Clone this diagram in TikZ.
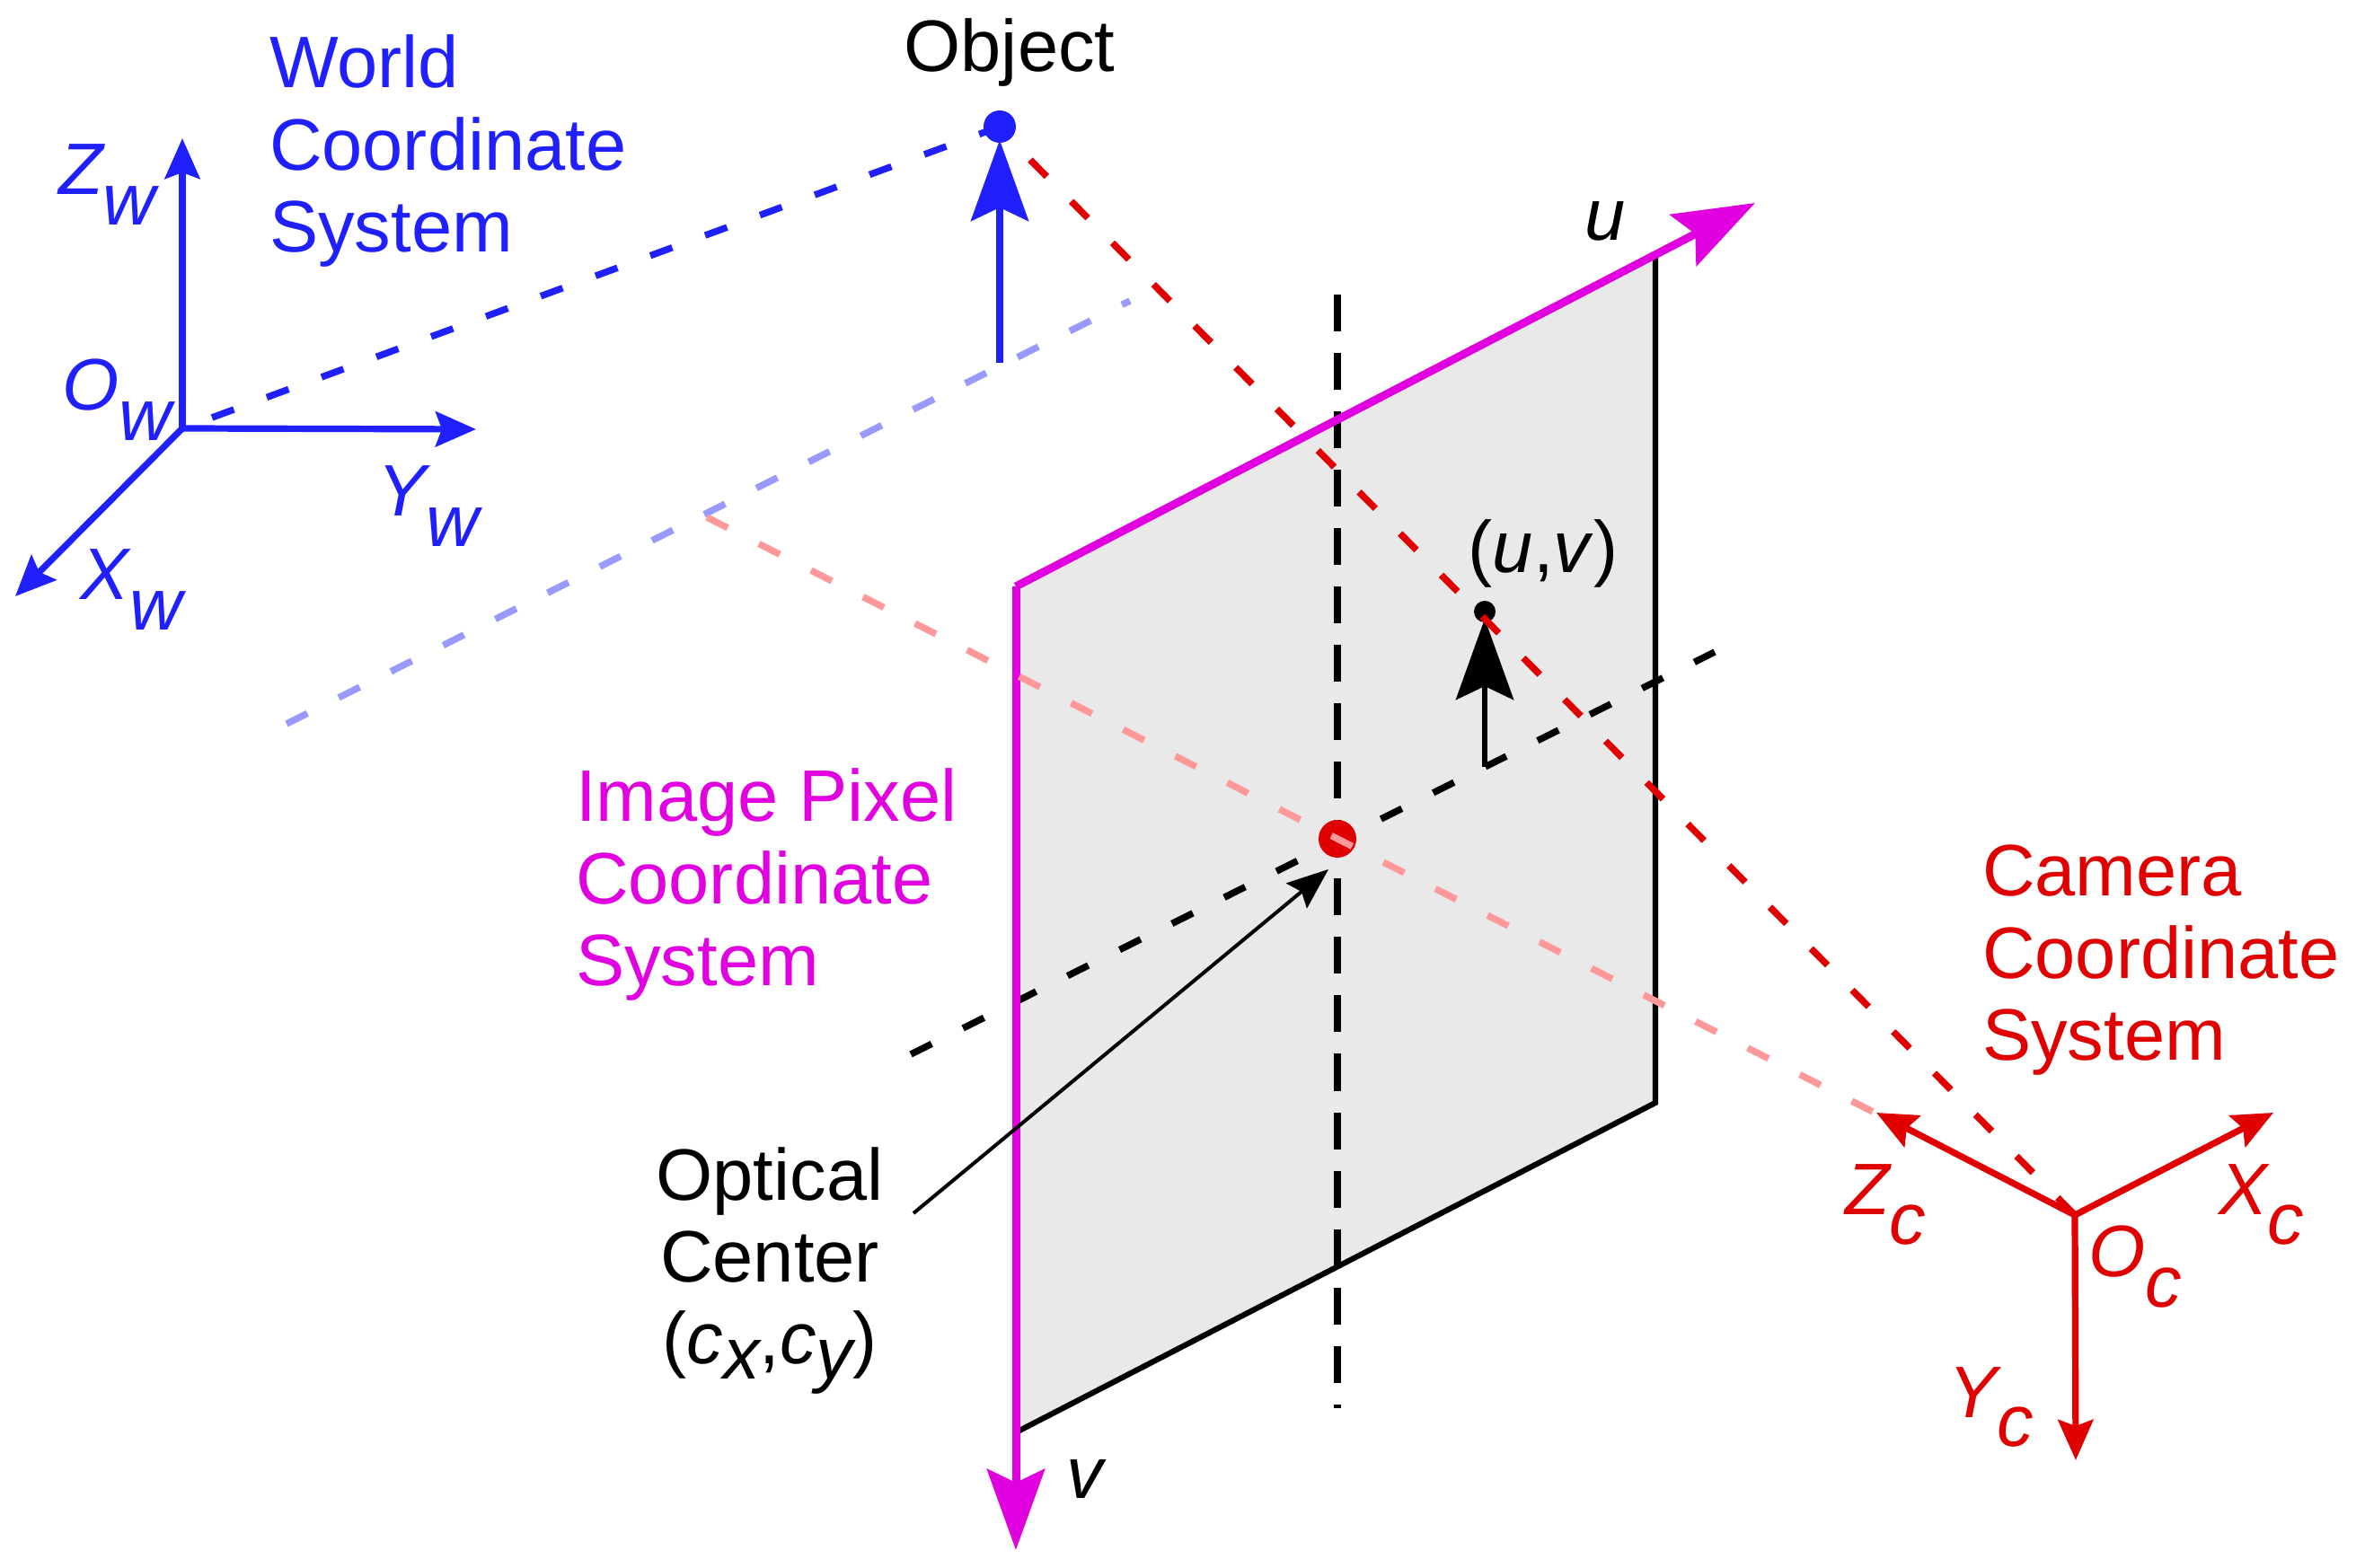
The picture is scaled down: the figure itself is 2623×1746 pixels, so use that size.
\documentclass[tikz,border=0pt]{standalone}
\usepackage{fontspec}
\setmainfont{Liberation Sans}
\usetikzlibrary{arrows.meta}
\definecolor{wblue}{HTML}{2020FF}
\definecolor{lblue}{HTML}{9999FF}
\definecolor{cred}{HTML}{E00000}
\definecolor{lred}{HTML}{FF9999}
\definecolor{imag}{HTML}{E000E0}
\definecolor{plane}{HTML}{E9E9E9}
\newcommand{\axlab}[3][-0.41em]{\textit{#2\raisebox{#1}{#3}}}
\newcommand{\lines}[2][l]{\begin{tabular}[t]{@{}#1@{}}#2\end{tabular}}
\tikzset{
  x=0.01cm,y=-0.01cm,
  lab/.style={inner sep=0pt,outer sep=0pt,anchor=base west,font=\fontsize{23.1}{25.9}\selectfont},
  labc/.style={lab,anchor=base},
  smallhead/.style={-{Stealth[length=0.45cm,width=0.39cm,inset=0.07cm]}},
  bighead/.style={-{Stealth[length=0.9cm,width=0.64cm,inset=0.15cm]}},
  axis/.style={line width=0.072cm,smallhead},
  dashs/.style={line width=0.075cm,dash pattern=on 0.26cm off 0.39cm},
  dotn/.style={circle,inner sep=0pt,outer sep=0pt,minimum size=#1},
}
\begin{document}
\begin{tikzpicture}
\useasboundingbox (0,0) rectangle (2623,1746);
\fill[white] (0,0) rectangle (2623,1746);
% key points
\coordinate (ow) at (203,477);
\coordinate (zw) at (203,154);
\coordinate (yw) at (530,478);
\coordinate (xw) at (17,664);
\coordinate (bs) at (236,465);
\coordinate (bobj) at (1113,141);
\coordinate (objb) at (1113,404);
\coordinate (objt) at (1113,156);
\coordinate (ls) at (319,806);
\coordinate (le) at (1258,335);
\coordinate (ps) at (787,576);
\coordinate (pe) at (2091,1241);
\coordinate (rs) at (1147,178);
\coordinate (oc) at (2310,1353);
\coordinate (zc) at (2089,1239);
\coordinate (xc) at (2531,1239);
\coordinate (yc) at (2311,1626);
\coordinate (tl) at (1131,653);
\coordinate (tr) at (1843,284);
\coordinate (br) at (1843,1228);
\coordinate (bl) at (1131,1595);
\coordinate (ut) at (1954,226);
\coordinate (vt) at (1131,1726);
\coordinate (vs) at (1489,328);
\coordinate (ve) at (1489,1568);
\coordinate (ds) at (1014,1174);
\coordinate (de) at (1909,726);
\coordinate (ib) at (1653,854);
\coordinate (it) at (1653,689);
\coordinate (ot) at (1479,968);
\coordinate (os) at (1017,1351);
% image plane
\fill[plane] (tl) -- (tr) -- (br) -- (bl) -- cycle;
\draw[line width=0.062cm] (tr) -- (br) -- (bl);
% projections behind
\draw[dashs,lblue] (ls) -- (le);
\draw[dashs] (ds) -- (de);
\draw[line width=0.085cm,dash pattern=on 0.41cm off 0.24cm] (vs) -- (ve);
% magenta axes
\draw[line width=0.09cm,imag,bighead] (tl) -- (ut);
\draw[line width=0.09cm,imag,bighead] (tl) -- (vt);
% optical centre
\node[dotn=0.42cm,fill=cred] (cen) at (1489,934) {};
\draw[dashs,lred] (ps) -- (pe);
% leader
\draw[line width=0.04cm,-{Stealth[length=0.46cm,width=0.36cm,inset=0.07cm]}] (os) -- (ot);
% world frame
\draw[axis,wblue] (ow) -- (zw);
\draw[axis,wblue] (ow) -- (yw);
\draw[axis,wblue] (ow) -- (xw);
\draw[dashs,wblue] (bs) -- (bobj);
\node[dotn=0.36cm,fill=wblue] (objdot) at (1113,141) {};
\draw[line width=0.075cm,wblue,bighead] (objb) -- (objt);
% image of object
\node[dotn=0.24cm,fill=black] (imdot) at (1653,681) {};
\draw[line width=0.068cm,bighead] (ib) -- (it);
% camera frame
\draw[dashs,cred] (rs) -- (oc);
\draw[axis,cred] (oc) -- (zc);
\draw[axis,cred] (oc) -- (xc);
\draw[axis,cred] (oc) -- (yc);
% labels
\node[lab,wblue] (twold) at (300,98) {\lines{World\\Coordinate\\System}};
\node[lab,wblue] (tz) at (65,217) {\axlab{Z}{w}};
\node[lab,wblue] (to) at (69,457) {\axlab{O}{w}};
\node[lab,wblue] (ty) at (420,575) {\axlab{Y}{w}};
\node[lab,wblue] (tx) at (90,668) {\axlab{X}{w}};
\node[labc] (tobj) at (1124,80) {Object};
\node[lab] (tu) at (1764,268) {\textit{u}};
\node[lab] (tv) at (1187,1668) {\textit{v}};
\node[labc] (tuv) at (1718,638) {(\textit{u},\textit{v})};
\node[lab,imag] (tim) at (641,915) {\lines{Image Pixel\\Coordinate\\System}};
\node[labc] (topt) at (857,1336) {\lines[c]{Optical\\Center\\(\axlab[-0.21em]{c}{x},\axlab[-0.21em]{c}{y})}};
\node[lab,cred] (tcam) at (2207,998) {\lines{Camera\\Coordinate\\System}};
\node[lab,cred] (tzc) at (2054,1353) {\axlab[-0.4em]{Z}{c}};
\node[lab,cred] (txc) at (2470,1353) {\axlab[-0.4em]{X}{c}};
\node[lab,cred] (toc) at (2325,1421) {\axlab[-0.42em]{O}{c}};
\node[lab,cred] (tyc) at (2169,1578) {\axlab[-0.4em]{Y}{c}};
\end{tikzpicture}
\end{document}
